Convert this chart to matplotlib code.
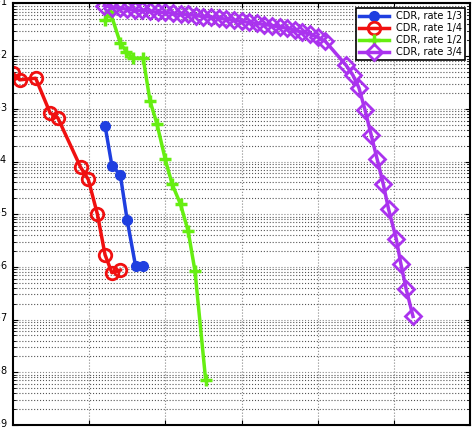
import numpy as np
import matplotlib
matplotlib.use("Agg")
import matplotlib.pyplot as plt

# log10 of the error rate
x_r14 = [0, 0.09, 0.30, 0.49, 0.59, 0.89, 0.99, 1.11, 1.21, 1.30, 1.41]
y_r14 = [-2.32, -2.45, -2.42, -3.08, -3.17, -4.11, -4.34, -5.0, -5.77, -6.11, -6.06]

x_r13 = [1.21, 1.30, 1.41, 1.50, 1.61, 1.71]
y_r13 = [-3.32, -4.08, -4.25, -5.11, -5.98, -5.98]

x_r12 = [1.21, 1.28, 1.41, 1.49, 1.58, 1.71, 1.80, 1.89, 2.0, 2.09, 2.20, 2.30, 2.39, 2.53]
y_r12 = [-1.32, -1.17, -1.75, -1.92, -2.04, -2.04, -2.85, -3.28, -3.96, -4.43, -4.81, -5.32, -6.08, -8.15]

x_r34 = [1.2, 1.3, 1.4, 1.5, 1.6, 1.7, 1.8, 1.9, 2.0, 2.1, 2.2, 2.3, 2.4, 2.5, 2.6,
         2.7, 2.8, 2.9, 3.0, 3.1, 3.2, 3.3, 3.4, 3.5, 3.6, 3.7, 3.8, 3.9, 4.0, 4.1,
         4.37, 4.46, 4.54, 4.62, 4.70, 4.78, 4.86, 4.93, 5.03, 5.09, 5.16, 5.25]
y_r34 = [-1.04, -1.08, -1.09, -1.11, -1.13, -1.13, -1.15, -1.17, -1.17, -1.19,
         -1.21, -1.21, -1.23, -1.25, -1.26, -1.28, -1.30, -1.32, -1.34, -1.36,
         -1.38, -1.40, -1.42, -1.45, -1.47, -1.51, -1.55, -1.58, -1.64, -1.72,
         -2.17, -2.36, -2.60, -3.02, -3.49, -3.96, -4.43, -4.91, -5.47, -5.94, -6.42, -6.94]

fig = plt.figure(figsize=(4.74, 4.28), dpi=100)
ax = fig.add_axes([0.027, 0.007, 0.965, 0.985])

ax.semilogy(x_r13, 10 ** np.array(y_r13), '-o', color='#1f3fe0', lw=2.5, ms=7,
            label='CDR, rate 1/3')
ax.semilogy(x_r14, 10 ** np.array(y_r14), '-o', color='#f01010', lw=2.5, ms=9,
            mfc='none', mew=2, label='CDR, rate 1/4')
ax.semilogy(x_r12, 10 ** np.array(y_r12), '-+', color='#66ee11', lw=2.5, ms=9,
            mew=2.5, label='CDR, rate 1/2')
ax.semilogy(x_r34, 10 ** np.array(y_r34), '-D', color='#aa33ee', lw=2.5, ms=8,
            mfc='none', mew=2, label='CDR, rate 3/4')

ax.set_xlim(0, 6)
ax.set_ylim(1e-9, 1e-1)
ax.set_xticks([1, 2, 3, 4, 5])
ax.set_xticklabels([])
ax.grid(True, which='major', ls=':', color='#888888', lw=0.8)
ax.grid(True, which='minor', ls=':', color='#555555', lw=0.8)
ax.tick_params(which='both', direction='in', top=True, right=True)
for s in ax.spines.values():
    s.set_linewidth(1.5)

leg = ax.legend(loc='upper right', fontsize=7, framealpha=1, fancybox=False,
                edgecolor='black', handlelength=3, borderpad=0.3, labelspacing=0.2)
leg.get_frame().set_linewidth(1.2)

fig.savefig('out.png', dpi=100)
